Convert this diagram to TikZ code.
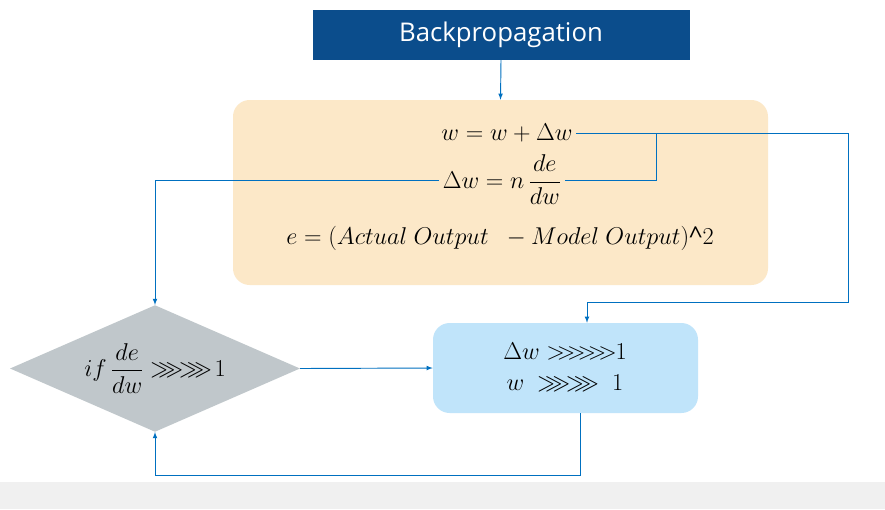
\documentclass[tikz,border=0pt]{standalone}
\usepackage{amsmath,amssymb}
\usepackage{fontspec}
\setmainfont{Open Sans}
\usetikzlibrary{shapes.geometric}
\definecolor{titleblue}{RGB}{11,77,140}
\definecolor{peach}{RGB}{252,232,200}
\definecolor{skyblue}{RGB}{192,228,250}
\definecolor{stone}{RGB}{192,199,203}
\definecolor{wire}{RGB}{0,112,192}
\newcommand{\eqfont}{\fontsize{21}{26}\selectfont}
\begin{document}
\begin{tikzpicture}[
    x=0.3mm, y=-0.3mm,
    title/.style={rectangle, fill=titleblue, text=white, minimum width=113.1mm, minimum height=15mm, font=\fontsize{22}{26}\selectfont},
    block/.style={rectangle, rounded corners=5mm, inner sep=0pt, align=center, font=\eqfont},
    decision/.style={diamond, fill=stone, aspect=2.3, inner sep=0pt, minimum width=87mm, minimum height=38mm, font=\eqfont},
    wire/.style={draw=wire, line width=0.8pt},
    link/.style={wire, -latex}
]

% Canvas
\fill[white] (0,0) rectangle (885,509);
\fill[black!6] (0,482) rectangle (885,509);

% Title
\node[title] (title) at (501,35) {Backpropagation};

% Update rules
\node[block, fill=peach, minimum width=160.5mm, minimum height=55.5mm] (update) at (500.5,192.5) {};
\node[font=\eqfont, inner sep=3pt] (rule) at (507,133) {$w = w + \Delta w$};
\node[font=\eqfont, inner sep=3pt] (delta) at (502,180) {$\Delta w = n\,\dfrac{de}{dw}$};
\node[font=\eqfont, inner sep=1pt] (error) at (500,238) {$e = (Actual\ Output\ \ - Model\ Output)\text{\string^}2$};

% Check and result
\node[decision] (check) at (155,368.5) {$if\,\dfrac{de}{dw}\ggg\!\ggg\!1$};
\node[block, fill=skyblue, minimum width=79.5mm, minimum height=27mm] (small) at (565.5,368) {};
\node[font=\eqfont] (small1) at (565,352) {$\Delta w >\!\!>\!\!>\!\!>\!\!>\!\!>\!\!1$};
\node[font=\eqfont] (small2) at (565,383) {$w\ \ggg\!\ggg\ 1$};

% Connectors
\coordinate (r1) at (848,133);
\coordinate (r2) at (848,302);
\coordinate (r3) at (587,302);
\coordinate (j1) at (656,180);
\coordinate (j2) at (656,133);
\coordinate (l1) at (155,180);
\coordinate (b1) at (580,475);
\coordinate (b2) at (155,475);
\draw[link] (title.south) -- (update.north);
\draw[wire] (rule.east) -- (r1) -- (r2) -- (r3);
\draw[link] (r3) -- (r3 |- small.north);
\draw[wire] (delta.east |- j1) -- (j1) -- (j2);
\draw[wire] (delta.west |- l1) -- (l1);
\draw[link] (l1) -- (check.north);
\draw[link] (check.east) -- (small.west);
\draw[wire] (b1 |- small.south) -- (b1) -- (b2);
\draw[link] (b2) -- (check.south);

\end{tikzpicture}
\end{document}
